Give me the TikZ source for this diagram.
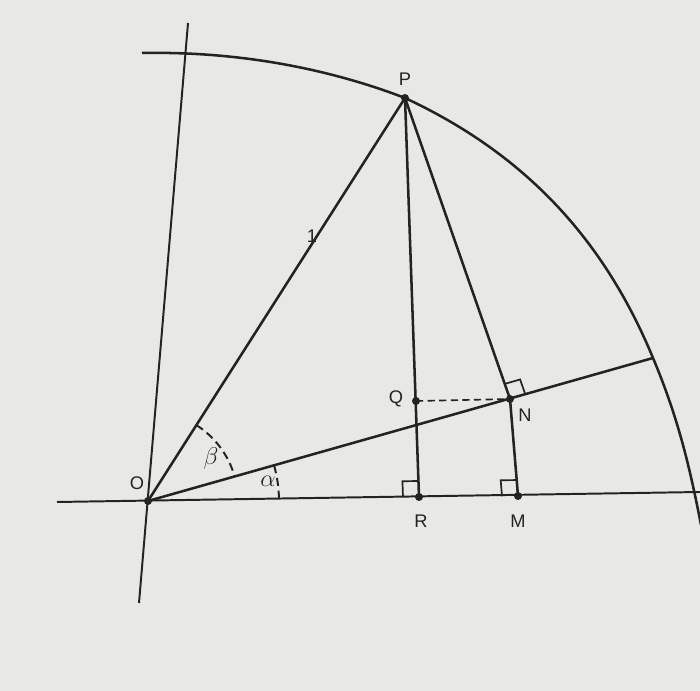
\documentclass[tikz,border=0pt]{standalone}
\usepackage{fontspec}
\setmainfont{Liberation Sans}
\usepackage{amsmath}
\definecolor{paper}{RGB}{232, 232, 229}
\definecolor{ink}{RGB}{35, 35, 35}
\usetikzlibrary{calc}

% small square at #1 between the rays to #2 and #3
\newcommand{\perpmark}[3]{%
    \coordinate (pm1) at ($(#1)!4mm!(#2)$);
    \coordinate (pm2) at ($(#1)!4mm!(#3)$);
    \draw[mark line] (pm1) -- ($(pm1)+(pm2)-(#1)$) -- (pm2);
}

\begin{document}
\begin{tikzpicture}[
    x=0.25mm, y=0.25mm,
    axis/.style={ink, line width=1.4pt},
    seg/.style={ink, line width=1.8pt},
    mark line/.style={ink, line width=1.2pt},
    angle arc/.style={ink, line width=1.4pt, dash pattern=on 2mm off 1.2mm},
    dot/.style={circle, fill=ink, inner sep=0pt, minimum size=2mm},
    lbl/.style={font=\fontsize{13}{15}\selectfont, text=ink}
]
    \fill[paper] (0,0) rectangle (700,691);
    \useasboundingbox (0,0) rectangle (700,691);

    % points
    \coordinate (O) at (148,190);
    \coordinate (P) at (405,593);
    \coordinate (R) at (419,194);
    \coordinate (M) at (518,195);
    \coordinate (N) at (510,292);
    \coordinate (Q) at (416,290);
    \coordinate (E) at (653,333);
    \coordinate (A) at (142,638);
    \coordinate (B) at (701,166);
    \coordinate (xl) at (57,189);
    \coordinate (xr) at (700,199);
    \coordinate (yb) at (139,88);
    \coordinate (yt) at (188,668);

    % axes and the arc
    \draw[axis] (xl) -- (xr);
    \draw[axis] (yb) -- (yt);
    \draw[seg] (A) .. controls (250,640) and (340,618) .. (P)
        .. controls (523,538) and (603,454) .. (E)
        .. controls (677,276) and (689,228) .. (B);

    % segments
    \draw[seg] (O) -- (P);
    \draw[seg] (O) -- (E);
    \draw[seg] (P) -- (R);
    \draw[seg] (P) -- (N);
    \draw[seg] (N) -- (M);
    \draw[ink, line width=1.2pt, dash pattern=on 1.8mm off 1.1mm] (Q) -- (N);

    % right angles
    \perpmark{R}{P}{O}
    \perpmark{M}{N}{O}
    \perpmark{N}{P}{E}

    % angles
    \draw[angle arc] ($(O)!22.5mm!(P)$) arc[start angle=57.5, end angle=15.7, radius=22.5mm];
    \draw[angle arc] ($(O)!32.75mm!(N)$) arc[start angle=15.7, end angle=0.9, radius=32.75mm];

    \foreach \p in {O, P, Q, N, R, M}
        \node[dot] (dot\p) at (\p) {};

    % labels
    \node[lbl] (labO) at (137,208) {O};
    \node[lbl] (labP) at (405,612) {P};
    \node[lbl] (labQ) at (396,292) {Q};
    \node[lbl] (labN) at (525,276) {N};
    \node[lbl] (labR) at (421,170) {R};
    \node[lbl] (labM) at (518,170) {M};
    \node[lbl] (labone) at (312,455) {1};
    \node[lbl, font=\fontsize{16}{18}\selectfont] (labbeta) at (211,233) {$\beta$};
    \node[lbl, font=\fontsize{16}{18}\selectfont] (labalpha) at (268,210) {$\alpha$};
\end{tikzpicture}
\end{document}
